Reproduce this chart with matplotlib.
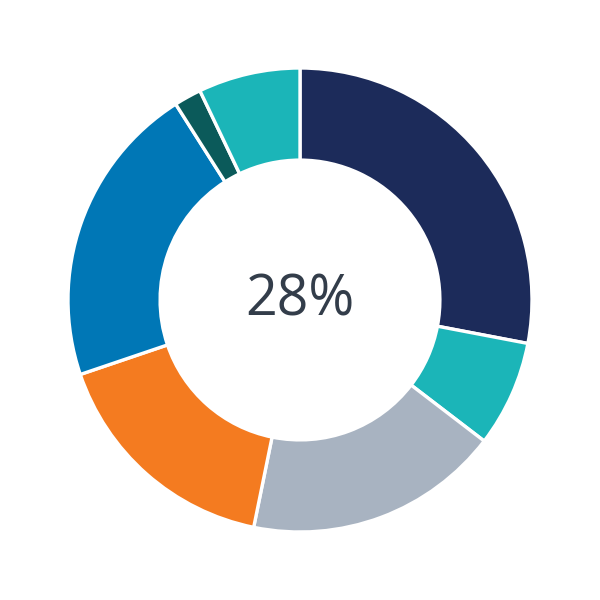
import matplotlib
matplotlib.use("Agg")
import matplotlib.pyplot as plt

# share of each segment, clockwise from the top
shares = [28, 7.4, 17.8, 16.6, 21.2, 1.9, 7.1]
colors = ['#1c2b5a', '#1bb5b8', '#a8b3c1', '#f47b20', '#0077b6', '#0b5a5a', '#1bb5b8']
center_label = '28%'

fig = plt.figure(figsize=(6, 6), dpi=100)
ax = fig.add_axes([0, 0, 1, 1])

ax.pie(shares, colors=colors, startangle=90, counterclock=False, radius=1,
       wedgeprops=dict(width=0.397, edgecolor='white', linewidth=2.4))
ax.text(0, -0.005, center_label, ha='center', va='center', fontsize=40,
        color='#333d4a', family='Open Sans')

lim = 300 / 232
ax.set_xlim(-lim, lim)
ax.set_ylim(-lim, lim)
ax.set_aspect('equal')
ax.axis('off')

fig.savefig('out.png', dpi=100, facecolor='white')
